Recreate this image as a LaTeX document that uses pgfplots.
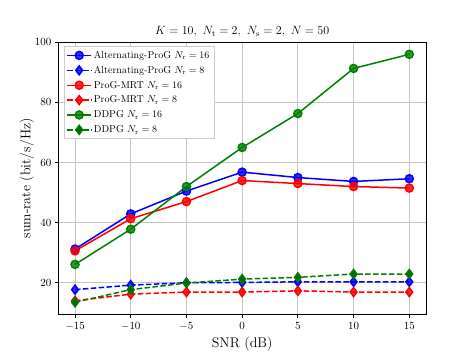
\documentclass[border=0pt]{standalone}
\usepackage{pgfplots}
\pgfplotsset{compat=1.18}
\definecolor{mpgreen}{RGB}{0,128,0}
\begin{document}
\begin{tikzpicture}
\begin{axis}[
  scale only axis,
  width=367.7pt, height=272pt,
  xmin=-16.5, xmax=16.5,
  ymin=9.5, ymax=100,
  xtick={-15,-10,-5,0,5,10,15},
  ytick={20,40,60,80,100},
  tick align=outside,
  tick pos=left,
  major tick length=3.5pt,
  tick style={black, line width=0.8pt},
  axis line style={line width=0.8pt},
  grid=major,
  grid style={gray!45, line width=0.8pt},
  tick label style={font=\fontsize{10.5}{12}\selectfont},
  xticklabel style={yshift=-1.5pt},
  xlabel={SNR (dB)},
  ylabel={sum-rate (bit/s/Hz)},
  label style={font=\fontsize{14}{16}\selectfont},
  xlabel style={at={(0.5,0)}, anchor=north, yshift=-19pt},
  ylabel style={at={(0,0.5)}, anchor=south, yshift=21pt},
  title={$K=10,\ N_\mathrm{t}=2,\ N_\mathrm{s}=2,\ N=50$},
  title style={font=\fontsize{12}{14}\selectfont, at={(0.5,1)}, anchor=south, yshift=-4.5pt},
  legend style={at={(0.015,0.985)}, anchor=north west, font=\fontsize{10}{12}\selectfont,
    draw=gray!40, row sep=2.3pt, inner sep=2.5pt},
  legend cell align=left,
  legend image code/.code={
    \draw[mark repeat=2,mark phase=2] plot coordinates {(0cm,0cm) (0.42cm,0cm) (0.84cm,0cm)};
  },
  every axis plot/.append style={line width=1.5pt},
]
\addplot[blue, mark=*, mark size=4pt, mark options={solid, fill opacity=0.8}] coordinates {
(-15,31.2) (-10,42.9) (-5,50.5) (0,56.8) (5,55) (10,53.7) (15,54.6)};
\addlegendentry{Alternating-ProG $N_\mathrm{r}=16$}
\addplot[blue, dash pattern=on 5.5pt off 2.4pt, mark=diamond*, mark size=4.5pt, mark options={solid, fill opacity=0.8}] coordinates {
(-15,17.7) (-10,19.2) (-5,20) (0,20.1) (5,20.3) (10,20.3) (15,20.3)};
\addlegendentry{Alternating-ProG $N_\mathrm{r}=8$}
\addplot[red, mark=*, mark size=4pt, mark options={solid, fill opacity=0.8}] coordinates {
(-15,30.6) (-10,41.3) (-5,47) (0,54) (5,53) (10,52) (15,51.5)};
\addlegendentry{ProG-MRT $N_\mathrm{r}=16$}
\addplot[red, dash pattern=on 5.5pt off 2.4pt, mark=diamond*, mark size=4.5pt, mark options={solid, fill opacity=0.8}] coordinates {
(-15,14) (-10,16.2) (-5,16.9) (0,16.9) (5,17.3) (10,16.9) (15,16.9)};
\addlegendentry{ProG-MRT $N_\mathrm{r}=8$}
\addplot[mpgreen, mark=*, mark size=4pt, mark options={solid, fill opacity=0.8}] coordinates {
(-15,26.1) (-10,37.8) (-5,52) (0,65) (5,76.3) (10,91.3) (15,96)};
\addlegendentry{DDPG $N_\mathrm{r}=16$}
\addplot[mpgreen, dash pattern=on 5.5pt off 2.4pt, mark=diamond*, mark size=4.5pt, mark options={solid, fill=mpgreen!80!black}] coordinates {
(-15,13.5) (-10,17.7) (-5,19.9) (0,21.2) (5,21.8) (10,22.9) (15,22.9)};
\addlegendentry{DDPG $N_\mathrm{r}=8$}
\end{axis}
\path[use as bounding box] (-58.3pt,-40.7pt) rectangle (415.7pt,314.3pt);
\end{tikzpicture}
\end{document}
